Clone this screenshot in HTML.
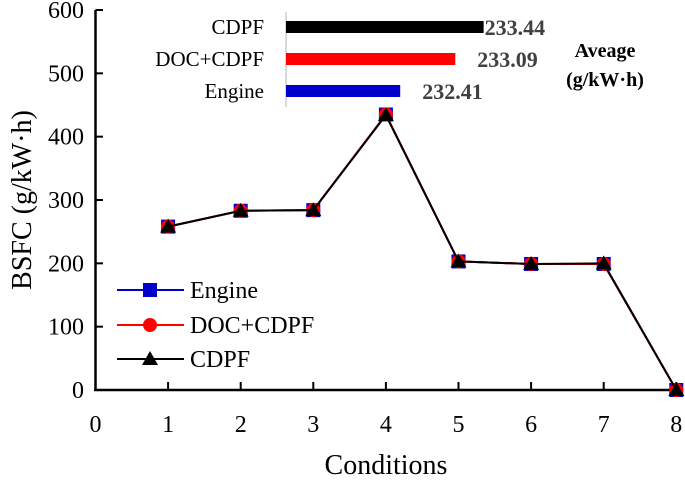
<!DOCTYPE html>
<html><head><meta charset="utf-8"><style>
body{margin:0;background:#fff}
svg,svg text{font-family:"Liberation Serif","DejaVu Serif","Times New Roman",serif}
</style></head><body>
<svg id="c" width="685" height="477" viewBox="0 0 685 477" font-family="Liberation Serif, DejaVu Serif, serif"></svg>
<script>
const categories=[1,2,3,4,5,6,7,8];
const engineVals=[258,283,284,435,203,199,199,0];
const docVals=[258,283,284,435,203,199,199,0];
const cdpfVals=[258,283,284,434,203,199,200,0];
const xTicks=[0,1,2,3,4,5,6,7,8];
const yTicks=[0,100,200,300,400,500,600];
const avgLabels=["CDPF","DOC+CDPF","Engine"];
const avgVals=[233.44,233.09,232.41];
const avgColors=["#000","#ff0000","#0000cc"];

const NS="http://www.w3.org/2000/svg";
const svg=document.getElementById('c');
function el(t,a,txt){const e=document.createElementNS(NS,t);for(const k in a)e.setAttribute(k,a[k]);if(t==='text')e.setAttribute('font-family','Liberation Serif, DejaVu Serif, serif');if(txt!==undefined)e.textContent=txt;svg.appendChild(e);return e;}
const X=v=>95.5+v*72.6;
const Y=v=>390-v*(380/600);

let a=el('line',{x1:95.5,y1:10,x2:95.5,y2:391,stroke:'#000','stroke-width':2.5});

a=el('line',{x1:94,y1:390,x2:678,y2:390,stroke:'#000','stroke-width':2.5});

yTicks.forEach(v=>{
  const t=el('line',{x1:95.5,y1:Y(v),x2:103,y2:Y(v),stroke:'#000','stroke-width':2});
  
  const l=el('text',{x:84,y:Y(v)+8,'font-size':24,'text-anchor':'end'},v);
  
});
xTicks.forEach(v=>{
  if(v>0){const t=el('line',{x1:X(v),y1:390,x2:X(v),y2:382,stroke:'#000','stroke-width':2});
  }
  const l=el('text',{x:X(v),y:432,'font-size':24,'text-anchor':'middle'},v);
  
});
let tt=el('text',{x:386,y:474,'font-size':28,'text-anchor':'middle'},'Conditions');

tt=el('text',{x:0,y:0,'font-size':28,'text-anchor':'middle',transform:'translate(31,200) rotate(-90)'},'BSFC (g/kW·h)');


function series(vals,color,name,marker){
  const p=el('polyline',{points:categories.map((c,i)=>X(c)+','+Y(vals[i])).join(' '),fill:'none',stroke:color,'stroke-width':2});
  
  categories.forEach((c,i)=>{const m=marker(X(c),Y(vals[i]));
    });
}
const sq=(x,y)=>el('rect',{x:x-7,y:y-7,width:14,height:14,fill:'#0000cc'});
const ci=(x,y)=>el('circle',{cx:x,cy:y,r:7,fill:'#ff0000'});
const tr=(x,y)=>el('polygon',{points:`${x},${y-8} ${x-8},${y+6} ${x+8},${y+6}`,fill:'#000'});
series(engineVals,'#0000cc','engine',sq);
series(docVals,'#ff0000','doc-cdpf',ci);
series(cdpfVals,'#000','cdpf',tr);

[["Engine",'#0000cc',sq,290],["DOC+CDPF",'#ff0000',ci,325],["CDPF",'#000',tr,359]].forEach(([t,c,m,y])=>{
  const l=el('line',{x1:117,y1:y,x2:184,y2:y,stroke:c,'stroke-width':2});
  
  const mm=m(150,y);
  const tx=el('text',{x:190,y:y+8,'font-size':24},t);
  
});

const BX=v=>286+(v-231)*81;
let dv=el('line',{x1:286,y1:12,x2:286,y2:107,stroke:'#ccc','stroke-width':1.5});

avgVals.forEach((v,i)=>{
  const yc=27+i*32;
  const r=el('rect',{x:286,y:yc-6,width:BX(v)-286,height:12,fill:avgColors[i]});
  
  const lb=el('text',{x:264,y:yc+7,'font-size':21,'text-anchor':'end'},avgLabels[i]);
  
  const vl=el('text',{x:BX(v)+(i==0?1:22),y:yc+8,'font-size':22,'font-weight':'bold',fill:'#404040'},v.toFixed(2));
  
});
tt=el('text',{x:605,y:57,'font-size':20,'font-weight':'bold','text-anchor':'middle'},'Aveage');

tt=el('text',{x:605,y:86,'font-size':20,'font-weight':'bold','text-anchor':'middle'},'(g/kW·h)');

</script>
</body></html>
